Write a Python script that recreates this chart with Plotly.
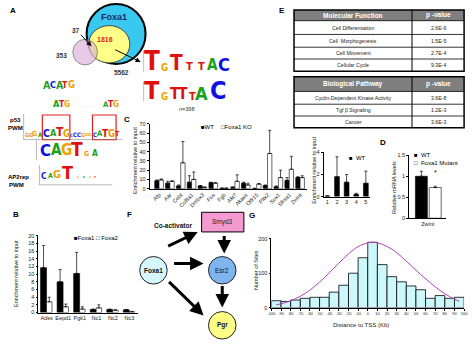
import plotly.graph_objects as go

W, H = 474, 345
FONT = "Liberation Sans, Arial, sans-serif"
NARROW = "Liberation Sans Narrow, DejaVu Sans Condensed, Liberation Sans, Arial"


def px(x):
    return x / W


def py(y):
    return 1 - y / H


# ---------------- DATA ----------------
# Panel C
c_genes = ["Afp", "Aar", "Cebt", "Col8a1", "Dmbx3", "Fos", "Fgb", "Akt7", "Akaxs",
           "Olfr15", "Pitx2", "Sox1", "Sfrsa1", "Zwint"]
c_wt = [8.5, 6, 3, 7, 3, 6.5, 0.5, 1.5, 6, 0.3, 3.5, 2, 9, 12]
c_wt_err = [1, 2, 1, 7, 0.5, 0.5, 0.2, 0.5, 1, 0.1, 0.5, 1, 3, 1]
c_ko = [9.5, 8, 28, 10, 1.5, 6, 0.5, 8, 4, 5, 38, 12, 21, 12]
c_ko_err = [1, 0.5, 23, 8, 0.3, 0.5, 0.2, 7, 2, 0.5, 25, 8, 14, 2]

# Panel C (inset, WT only)
c2_sites = [1, 2, 3, 4, 5]
c2_wt = [0.05, 1.8, 1.3, 0.2, 1.2]
c2_err = [0.02, 1.8, 0.7, 0.1, 1.1]

# Panel D
d_gene = ["Zwint"]
d_wt = [1.0]
d_wt_err = [0.12]
d_mut = [0.73]
d_mut_err = [0.03]

# Panel B
b_genes = ["Adss", "Eepd1", "Pgk1", "Nc1", "Nc2", "Nc3"]
b_foxa1 = [11.7, 8.0, 10.2, 0.8, 0.8, 0.7]
b_foxa1_err = [5.8, 3.2, 5.5, 0.1, 0.1, 0.1]
b_foxa2 = [2.8, 1.5, 0.9, 1.2, 0.6, 0.2]
b_foxa2_err = [1.2, 0.7, 0.6, 0.8, 0.1, 0.1]

# Panel G
g_bins = [-95, -85, -75, -65, -55, -45, -35, -25, -15, -5, 5, 15, 25, 35, 45, 55, 65, 75, 85, 95]
g_counts = [20, 18, 22, 27, 30, 30, 45, 65, 100, 145, 190, 125, 90, 75, 63, 52, 27, 35, 27, 30]
g_curve = [8, 15, 26, 41, 62, 87, 115, 143, 168, 184, 190, 184, 170, 148, 122, 96, 72, 50, 32, 18]
g_ticks = list(range(-100, 101, 10))
g_ticktext = [str(v) for v in g_ticks]

# Panel E tables
mf_terms = ["Cell Differentiation", "Cell  Morphogenesis", "Cell Movement", "Cellular Cycle"]
mf_p = ["2.6E-6", "1.5E-5", "2.7E-4", "9.3E-4"]
bp_terms = ["Cyclin-Dependent Kinase Activity", "Tgf β Signaling", "Cancer"]
bp_p = ["3.6E-8", "1.2E-3", "3.6E-3"]

# Panel A Venn counts
venn_labels = ["1816", "37", "353", "5562"]

# Motif logos: (letter, left px, right px, height px)
logo_fox1 = [("T", 143, 158, 20), ("G", 160, 167, 12), ("T", 169, 181, 21), ("T", 184, 194, 8),
             ("T", 196, 206, 8), ("A", 207, 217, 11), ("C", 218, 230, 13)]
logo_fox2 = [("T", 143, 158, 18), ("G", 159, 167, 7), ("T", 169, 178, 18), ("T", 178, 187, 18),
             ("T", 188, 195, 8), ("A", 195, 207, 18), ("C", 209, 228, 18)]
logo_l1 = [("A", 40, 47, 11), ("C", 47, 53, 11), ("A", 53, 60, 11), ("T", 60, 65, 11), ("G", 65, 72, 10)]
logo_l2 = [("A", 50, 56, 8), ("T", 56, 61, 8), ("G", 61, 67, 8),
           ("A", 101, 106, 8), ("T", 106, 111, 8), ("G", 111, 117, 8)]
logo_p53 = [("G", 21, 25, 4), ("G", 25, 29, 5), ("G", 29, 34, 5), ("A", 35, 39, 6),
            ("C", 40, 47, 20), ("A", 47, 53, 20), ("T", 53, 60, 20), ("G", 60, 67, 18),
            ("C", 67, 70, 5), ("C", 70, 74, 10), ("C", 74, 78, 10), ("G", 78, 82, 5),
            ("G", 82, 85, 5), ("G", 85, 88, 5), ("C", 91, 95, 6), ("A", 95, 100, 12),
            ("T", 100, 106, 14), ("G", 106, 113, 14), ("T", 113, 117, 5)]
logo_l4 = [("C", 37, 48, 15), ("A", 48, 58, 15), ("G", 58, 69, 15), ("T", 69, 80, 15),
           ("G", 80, 87, 5), ("A", 88, 97, 6)]
logo_ap2 = [("C", 37, 45, 6), ("A", 45, 50, 5), ("G", 50, 58, 12), ("T", 59, 70, 13),
            ("G", 72, 78, 2), ("A", 78, 84, 2), ("G", 84, 90, 2), ("T", 90, 96, 2)]

# ---------------- FIGURE ----------------
fig = go.Figure()
err_style = dict(type="data", symmetric=False, color="black", thickness=0.7, width=1.5)


def err(arr):
    return dict(err_style, array=arr, arrayminus=[0] * len(arr))


line_blk = dict(color="black", width=0.6)

# C
fig.add_bar(x=c_genes, y=c_wt, xaxis="x", yaxis="y", offset=-0.42, width=0.4,
            marker=dict(color="black", line=line_blk), error_y=err(c_wt_err))
fig.add_bar(x=c_genes, y=c_ko, xaxis="x", yaxis="y", offset=-0.02, width=0.4,
            marker=dict(color="white", line=line_blk), error_y=err(c_ko_err))
# C inset
fig.add_bar(x=c2_sites, y=c2_wt, xaxis="x2", yaxis="y2", width=0.5,
            marker=dict(color="black", line=line_blk), error_y=err(c2_err))
# D
fig.add_bar(x=d_gene, y=d_wt, xaxis="x3", yaxis="y3", offset=-0.33, width=0.32,
            marker=dict(color="black", line=line_blk), error_y=err(d_wt_err))
fig.add_bar(x=d_gene, y=d_mut, xaxis="x3", yaxis="y3", offset=0.04, width=0.32,
            marker=dict(color="white", line=line_blk), error_y=err(d_mut_err))
# B
fig.add_bar(x=b_genes, y=b_foxa1, xaxis="x4", yaxis="y4", offset=-0.37, width=0.36,
            marker=dict(color="black", line=line_blk), error_y=err(b_foxa1_err))
fig.add_bar(x=b_genes, y=b_foxa2, xaxis="x4", yaxis="y4", offset=-0.01, width=0.33,
            marker=dict(color="white", line=line_blk), error_y=err(b_foxa2_err))
# G
fig.add_bar(x=g_bins, y=g_counts, xaxis="x5", yaxis="y5", width=10,
            marker=dict(color="#ccf8fc", line=dict(color="black", width=0.8)))
fig.add_scatter(x=g_bins, y=g_curve, xaxis="x5", yaxis="y5", mode="lines",
                line=dict(color="#b040b8", width=1, shape="spline"))


def ax(**kw):
    base = dict(showline=True, linecolor="black", linewidth=0.8, showgrid=False,
                zeroline=False, ticks="outside", ticklen=2, tickwidth=0.8, tickcolor="black",
                tickfont=dict(size=5.5, family=FONT, color="#222"), fixedrange=True)
    base.update(kw)
    return base


layout = dict(
    width=W, height=H, margin=dict(l=0, r=0, t=0, b=0),
    paper_bgcolor="white", plot_bgcolor="white", showlegend=False, barmode="overlay",
    font=dict(family=FONT),
    xaxis=ax(domain=[px(148), px(308)], anchor="y", range=[-0.9, 13.6], ticks="",
             tickangle=-45, tickfont=dict(size=5.5, family=FONT, color="#222")),
    yaxis=ax(domain=[py(189), py(123)], anchor="x", range=[0, 70], dtick=10),
    xaxis2=ax(domain=[px(325), px(372)], anchor="y2", range=[0.6, 5.4], tickvals=c2_sites, ticks=""),
    yaxis2=ax(domain=[py(197), py(152)], anchor="x2", range=[0, 4], dtick=2),
    xaxis3=ax(domain=[px(412), px(450)], anchor="y3", range=[-0.5, 0.5], ticks=""),
    yaxis3=ax(domain=[py(219), py(155)], anchor="x3", range=[0, 1.5],
              tickvals=[0, 0.5, 1, 1.5], ticktext=["0", "0.5", "1", "1.5"]),
    xaxis4=ax(domain=[px(35), px(136)], anchor="y4", range=[-0.5, 5.5], ticks=""),
    yaxis4=ax(domain=[py(315), py(237)], anchor="x4", range=[0, 20], dtick=2),
    xaxis5=ax(domain=[px(272), px(468)], anchor="y5", range=[-100, 100], tickvals=g_ticks,
              ticktext=g_ticktext, tickangle=0, tickfont=dict(size=4, family=FONT, color="#222")),
    yaxis5=ax(domain=[py(310), py(240)], anchor="x5", range=[0, 200], tickvals=[0, 100, 200]),
)

shapes = []
anns = []


def ann(text, x, y, size=6, color="black", bold=False, xanchor="center", yanchor="middle", angle=0):
    anns.append(dict(text=("<b>%s</b>" % text if bold else text), x=px(x), y=py(y),
                     xref="paper", yref="paper", showarrow=False,
                     font=dict(size=size, color=color, family=FONT),
                     xanchor=xanchor, yanchor=yanchor, textangle=angle, borderpad=0))


def arrow(x0, y0, x1, y1, width=3, head=2, size=1.0):
    anns.append(dict(x=px(x1), y=py(y1), ax=x0 - x1, ay=y0 - y1, xref="paper", yref="paper",
                     axref="pixel", ayref="pixel", showarrow=True, text="", arrowhead=head,
                     arrowwidth=width, arrowsize=size, arrowcolor="black", standoff=0, startstandoff=0))


def rect(x0, y0, x1, y1, fill="rgba(0,0,0,0)", lc="black", lw=1, kind="rect", opacity=1):
    shapes.append(dict(type=kind, xref="paper", yref="paper", x0=px(x0), x1=px(x1),
                       y0=py(y1), y1=py(y0), fillcolor=fill, line=dict(color=lc, width=lw),
                       opacity=opacity, layer="above"))


def line(x0, y0, x1, y1, lc="black", lw=1):
    shapes.append(dict(type="line", xref="paper", yref="paper", x0=px(x0), x1=px(x1),
                       y0=py(y0), y1=py(y1), line=dict(color=lc, width=lw), layer="above"))


# Panel labels
for lab, x, y in [("A", 9, 8), ("B", 12, 215), ("C", 125, 119), ("D", 385, 142),
                  ("E", 283, 8), ("F", 128, 215), ("G", 252, 216)]:
    ann(lab, x, y, size=8, bold=True)

# ---- Panel A: Venn ----
rect(84, 1, 144, 62, fill="#38c8f0", lw=2, kind="circle")
rect(86, 23, 128, 61, fill="#ffff88", lc="#444", lw=1, kind="circle")
rect(70, 37, 95, 63, fill="#d8a8d8", lc="#444", lw=1, kind="circle", opacity=0.6)
ann("Foxa1", 112, 14, size=9, color="#1a2a6a", bold=True)
ann(venn_labels[0], 103, 37, size=7, color="#e02020", bold=True)
ann(venn_labels[1], 73, 28, size=6.5, bold=True, color="#333")
ann(venn_labels[2], 58, 53, size=6.5, bold=True, color="#333")
ann(venn_labels[3], 120, 71, size=6.5, bold=True, color="#333")
arrow(77, 31, 89, 44, width=1, head=2, size=1)
arrow(112, 47, 139, 60, width=1, head=2, size=1)

# ---- Sequence logos ----
COL = {"A": "#1aa01a", "C": "#1010e0", "G": "#f0a000", "T": "#e01010"}
WRATIO = {"A": 0.66, "C": 0.66, "G": 0.72, "T": 0.58}


def logo(baseline, spec):
    for letter, xl, xr, h in spec:
        s = min(h / 0.72, (xr - xl) / WRATIO[letter])
        s = max(s, 2.5)
        anns.append(dict(text="<b>%s</b>" % letter, x=px((xl + xr) / 2), y=py(baseline + 0.21 * s),
                         xref="paper", yref="paper", showarrow=False, xanchor="center",
                         yanchor="bottom", borderpad=0,
                         font=dict(size=s, color=COL[letter], family=NARROW)))


logo(70, logo_fox1)
logo(100, logo_fox2)
ann("n=398", 186, 108, size=5.5, color="#333")
line(142, 48, 142, 70, lc="#999", lw=0.6)
line(142, 80, 142, 100, lc="#999", lw=0.6)

logo(88, logo_l1)
logo(107, logo_l2)
ann("· · · · · ·", 84, 105, size=4, color="#777")

logo(137, logo_p53)
rect(39, 114, 67, 139, lc="#e02020", lw=1.2)
rect(90, 114, 114, 139, lc="#e02020", lw=1.2)
line(20, 139, 120, 139, lc="#888", lw=0.6)
line(20, 113, 20, 139, lc="#888", lw=0.6)
ann("p53", 12, 119, size=6, bold=True)
ann("PWM", 12, 127, size=6, bold=True)

logo(157, logo_l4)
line(33, 140, 33, 160, lc="#888", lw=0.6)

logo(180, logo_ap2)
line(36, 165, 36, 185, lc="#888", lw=0.6)
line(36, 185, 110, 185, lc="#888", lw=0.6)
ann("AP2rep", 15, 177, size=6, bold=True)
ann("PWM", 13, 185, size=6, bold=True)

# ---- Panel C annotations ----
ann("Enrichment relative to input", 133, 160, size=5.5, angle=-90, color="#222")
ann("■WT", 199, 126, size=6, xanchor="left")
ann("□Foxa1 KO", 220, 126, size=6, xanchor="left")
ann("Enrichment relative to input", 315, 170, size=5.5, angle=-90, color="#222")
ann("■  WT", 350, 158, size=6, xanchor="left")

# ---- Panel D ----
ann("Relative mRNA levels", 396, 188, size=5.5, angle=-90, color="#222")
ann("■  WT", 416, 155, size=6, xanchor="left")
ann("□  Foxa1 Mutant", 416, 163, size=6, xanchor="left")
ann("*", 439, 172, size=7)

# ---- Panel B ----
ann("Enrichment relative to input", 12, 275, size=5.5, angle=-90, color="#222")
ann("■Foxa1 □ Foxa2", 70, 239, size=6, xanchor="left")

# ---- Panel G ----
ann("Number of Sites", 257, 272, size=5.5, angle=-90, color="#222")
ann("Distance to TSS (Kb)", 363, 328, size=6, color="#222")


# ---- Panel E tables ----
def table(y0, header_h, row_hs, terms, pvals, title):
    x0, x1, xs = 295, 468, 415
    y_end = y0 + header_h + sum(row_hs)
    rect(x0, y0, x1, y0 + header_h, fill="#7f7f7f", lw=0)
    yy = y0 + header_h
    for t, p, rh in zip(terms, pvals, row_hs):
        ann(t, (x0 + xs) / 2, yy + rh / 2, size=5.2, color="#222")
        ann(p, (xs + x1) / 2, yy + rh / 2, size=5.2, color="#222")
        line(x0, yy, x1, yy, lw=0.8)
        yy += rh
    line(xs, y0, xs, y_end, lw=1)
    rect(x0, y0, x1, y_end, lw=1.5)
    ann(title, (x0 + xs) / 2, y0 + header_h / 2, size=6.5, color="white", bold=True)
    ann("p -value", (xs + x1) / 2, y0 + header_h / 2, size=6.5, color="white", bold=True)


table(7, 11, [14, 13, 12, 12.5], mf_terms, mf_p, "Molecular Function")
table(75, 15, [13, 12, 12], bp_terms, bp_p, "Biological Pathway")

# ---- Panel F diagram ----
rect(201, 213, 244, 233, fill="#f49ad0", lw=1)
rect(138, 258, 166, 286, fill="#d4f6fc", lc="#222", lw=1, kind="circle")
rect(208, 258, 236, 286, fill="#7fb4ee", lc="#222", lw=1, kind="circle")
rect(208, 314, 236, 342, fill="#ffff88", lc="#222", lw=1, kind="circle")
ann("Smyd3", 222, 223, size=6.5, color="#222")
ann("Foxa1", 152, 272, size=6.5, color="#111", bold=True)
ann("Esr2", 222, 272, size=6.5, color="#111")
ann("Pgr", 222, 328, size=6.5, color="#111", bold=True)
ann("Co-activator", 172, 226, size=6.5, color="#111", bold=True)
arrow(166, 248, 197, 233, width=3, head=2, size=0.9)
arrow(172, 265, 203, 265, width=3, head=2, size=0.9)
arrow(224, 236, 224, 255, width=3, head=2, size=0.9)
arrow(222, 287, 222, 310, width=3, head=2, size=0.9)
arrow(167, 283, 203, 318, width=3, head=2, size=0.9)

layout["shapes"] = shapes
layout["annotations"] = anns
fig.update_layout(**layout)
fig.write_html("out.html")
